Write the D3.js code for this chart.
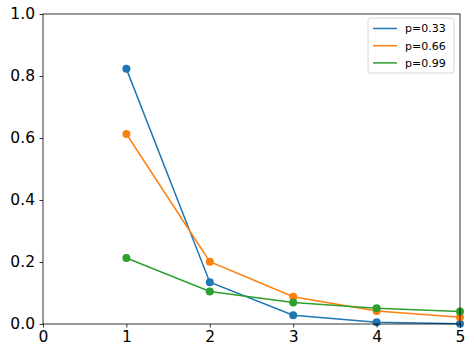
<!DOCTYPE html>
<html><head><meta charset="utf-8">
<script src="https://cdn.jsdelivr.net/npm/d3@7"></script>
<style>body{margin:0;background:#fff}svg{display:block}</style>
</head><body>
<script>
const xs = [1, 2, 3, 4, 5];
const seriesNames = ["p=0.33", "p=0.66", "p=0.99"];
const valsP033 = [0.823, 0.135, 0.028, 0.006, 0.001];
const valsP066 = [0.613, 0.201, 0.088, 0.042, 0.022];
const valsP099 = [0.213, 0.105, 0.069, 0.051, 0.040];
const colors = ["#1f77b4", "#ff7f0e", "#2ca02c"];
const xTicks = [0, 1, 2, 3, 4, 5];
const yTicks = [0.0, 0.2, 0.4, 0.6, 0.8, 1.0];

const W = 474, H = 357;
const m = {l: 43, r: 14, t: 14, b: 33};
const svg = d3.select("body").append("svg").attr("width", W).attr("height", H);
const x = d3.scaleLinear().domain([0, 5]).range([m.l, W - m.r]);
const y = d3.scaleLinear().domain([0, 1]).range([H - m.b, m.t]);

const font = "DejaVu Sans, sans-serif";
const series = [valsP033, valsP066, valsP099];
svg.append("defs").append("clipPath").attr("id", "c")
  .append("rect").attr("x", m.l - 5).attr("y", m.t - 5).attr("width", W - m.l - m.r + 10).attr("height", H - m.t - m.b + 10);

const g = svg.append("g").attr("clip-path", "url(#c)");
series.forEach((vals, i) => {
  const pts = xs.map((d, j) => [d, vals[j]]);
  g.append("path").datum(pts)
    .attr("d", d3.line().x(d => x(d[0])).y(d => y(d[1])))
    .attr("fill", "none").attr("stroke", colors[i]).attr("stroke-width", 1.5);
  g.selectAll(null).data(pts).enter().append("circle")
    .attr("cx", d => x(d[0])).attr("cy", d => y(d[1])).attr("r", 4)
    .attr("fill", colors[i]);
});

const xAxis = svg.append("g").attr("transform", `translate(0,${H - m.b})`)
  .call(d3.axisBottom(x).tickValues(xTicks).tickFormat(d3.format("d")).tickSizeOuter(0).tickSize(3.5));
const yAxis = svg.append("g").attr("transform", `translate(${m.l},0)`)
  .call(d3.axisLeft(y).tickValues(yTicks).tickFormat(d3.format(".1f")).tickSizeOuter(0).tickSize(3.5));
[xAxis, yAxis].forEach(a => {
  a.select(".domain").remove();
  a.selectAll("line").attr("stroke", "#000").attr("stroke-width", 0.8);
  a.selectAll("text").attr("font-family", font).attr("font-size", 15.5).attr("fill", "#000");
});
xAxis.selectAll("text").attr("dy", "0.75em").attr("y", 6.5);
yAxis.selectAll("text").attr("x", -8);

svg.append("rect").attr("x", m.l).attr("y", m.t).attr("width", W - m.l - m.r).attr("height", H - m.t - m.b)
  .attr("fill", "none").attr("stroke", "#000").attr("stroke-width", 0.8);

// legend
const lg = svg.append("g").attr("transform", "translate(368,18)");
lg.append("rect").attr("width", 86).attr("height", 55).attr("rx", 2.5)
  .attr("fill", "#fff").attr("fill-opacity", 0.8).attr("stroke", "#ccc").attr("stroke-width", 0.8);
seriesNames.forEach((n, i) => {
  const yy = 10.5 + i * 17.2;
  lg.append("line").attr("x1", 5).attr("x2", 29).attr("y1", yy).attr("y2", yy)
    .attr("stroke", colors[i]).attr("stroke-width", 1.5);
  lg.append("text").attr("x", 37).attr("y", yy).attr("dy", "0.35em")
    .attr("font-family", font).attr("font-size", 11).attr("fill", "#000").text(n);
});
</script>
</body></html>
